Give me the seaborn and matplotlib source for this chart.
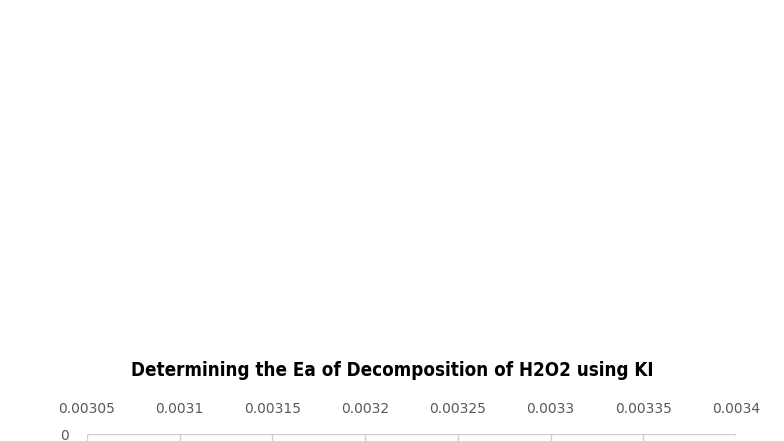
import matplotlib
matplotlib.use("Agg")
import matplotlib.pyplot as plt
import seaborn as sns
import pandas as pd
from matplotlib.ticker import FixedLocator, FixedFormatter

# Data (points lie below the visible part of the chart)
inv_T = [0.003096, 0.003143, 0.003193, 0.003245, 0.003300, 0.003356]
ln_k = [-3.2, -3.6, -4.0, -4.5, -4.9, -5.4]
x_ticks = [0.00305, 0.0031, 0.00315, 0.0032, 0.00325, 0.0033, 0.00335, 0.0034]
x_tick_labels = ["0.00305", "0.0031", "0.00315", "0.0032", "0.00325", "0.0033", "0.00335", "0.0034"]
y_ticks = [0]
y_tick_labels = ["0"]
title = "Determining the Ea of Decomposition of H2O2 using KI"

sns.set_theme(style="white")
plt.rcParams['font.family'] = ['DejaVu Sans']

W, H = 784, 441
fig = plt.figure(figsize=(W / 100, H / 100), dpi=100)
fig.patch.set_facecolor("white")

left = 87 / W
width = (736 - 87) / W
top = (H - 434) / H
bottom = -0.95
ax = fig.add_axes([left, bottom, width, top - bottom])

df = pd.DataFrame({"inv_T": inv_T, "ln_k": ln_k})
sns.scatterplot(data=df, x="inv_T", y="ln_k", ax=ax, color="#4472C4", s=30, edgecolor="#4472C4")

ax.set_xlim(0.00305, 0.0034)
ax.set_ylim(-6, 0)
ax.xaxis.set_major_locator(FixedLocator(x_ticks))
ax.xaxis.set_major_formatter(FixedFormatter(x_tick_labels))
ax.yaxis.set_major_locator(FixedLocator(y_ticks))
ax.yaxis.set_major_formatter(FixedFormatter(y_tick_labels))
ax.xaxis.tick_top()
ax.tick_params(axis="x", length=0, pad=13, labelsize=10, labelcolor="#595959")
ax.tick_params(axis="y", length=0, pad=13, labelsize=10, labelcolor="#595959")
ax.grid(True, color="#D0D0D0", linewidth=1)
for s in ax.spines.values():
    s.set_visible(False)
ax.set_xlabel("")
ax.set_ylabel("")

fig.text(0.5, 1 - 370 / H, title, ha="center", va="center", fontsize=13.5,
         fontweight="bold", fontstretch="condensed", color="black",
         family=["DejaVu Sans Condensed", "DejaVu Sans"])

fig.savefig("out.png", dpi=100)
